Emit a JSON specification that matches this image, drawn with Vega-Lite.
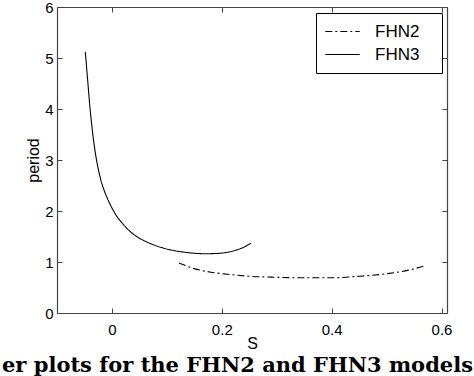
{
  "$schema": "https://vega.github.io/schema/vega-lite/v6.json",
  "autosize": {"type": "none"},
  "width": 390,
  "height": 306,
  "padding": {"left": 57, "top": 7, "right": 27, "bottom": 63},
  "background": "white",
  "title": {
    "text": "er plots for the FHN2 and FHN3 models",
    "orient": "bottom",
    "anchor": "start",
    "frame": "group",
    "dx": -55,
    "offset": 4,
    "font": "DejaVu Serif",
    "fontSize": 21,
    "fontWeight": "bold",
    "color": "black"
  },
  "data": {"values": [
    {"model": "FHN3", "s": -0.0485, "period": 5.12},
    {"model": "FHN3", "s": -0.046, "period": 4.80},
    {"model": "FHN3", "s": -0.044, "period": 4.54},
    {"model": "FHN3", "s": -0.042, "period": 4.28},
    {"model": "FHN3", "s": -0.040, "period": 4.03},
    {"model": "FHN3", "s": -0.0375, "period": 3.76},
    {"model": "FHN3", "s": -0.035, "period": 3.52},
    {"model": "FHN3", "s": -0.032, "period": 3.27},
    {"model": "FHN3", "s": -0.029, "period": 3.06},
    {"model": "FHN3", "s": -0.025, "period": 2.83},
    {"model": "FHN3", "s": -0.020, "period": 2.60},
    {"model": "FHN3", "s": -0.014, "period": 2.40},
    {"model": "FHN3", "s": -0.008, "period": 2.24},
    {"model": "FHN3", "s": 0.000, "period": 2.06},
    {"model": "FHN3", "s": 0.008, "period": 1.91},
    {"model": "FHN3", "s": 0.018, "period": 1.77},
    {"model": "FHN3", "s": 0.030, "period": 1.63},
    {"model": "FHN3", "s": 0.045, "period": 1.50},
    {"model": "FHN3", "s": 0.060, "period": 1.41},
    {"model": "FHN3", "s": 0.075, "period": 1.34},
    {"model": "FHN3", "s": 0.090, "period": 1.285},
    {"model": "FHN3", "s": 0.110, "period": 1.23},
    {"model": "FHN3", "s": 0.130, "period": 1.195},
    {"model": "FHN3", "s": 0.150, "period": 1.172},
    {"model": "FHN3", "s": 0.170, "period": 1.162},
    {"model": "FHN3", "s": 0.190, "period": 1.167},
    {"model": "FHN3", "s": 0.210, "period": 1.19},
    {"model": "FHN3", "s": 0.225, "period": 1.23},
    {"model": "FHN3", "s": 0.240, "period": 1.29},
    {"model": "FHN3", "s": 0.253, "period": 1.37},
    {"model": "FHN2", "s": 0.122, "period": 0.98},
    {"model": "FHN2", "s": 0.150, "period": 0.87},
    {"model": "FHN2", "s": 0.180, "period": 0.80},
    {"model": "FHN2", "s": 0.210, "period": 0.76},
    {"model": "FHN2", "s": 0.250, "period": 0.72},
    {"model": "FHN2", "s": 0.300, "period": 0.70},
    {"model": "FHN2", "s": 0.350, "period": 0.69},
    {"model": "FHN2", "s": 0.400, "period": 0.69},
    {"model": "FHN2", "s": 0.450, "period": 0.72},
    {"model": "FHN2", "s": 0.500, "period": 0.77},
    {"model": "FHN2", "s": 0.540, "period": 0.84},
    {"model": "FHN2", "s": 0.571, "period": 0.93}
  ]},
  "layer": [
    {
      "mark": {"type": "line", "color": "black", "strokeWidth": 1.1, "interpolate": "monotone"},
      "encoding": {
        "x": {"field": "s", "type": "quantitative",
              "scale": {"domain": [-0.1, 0.61], "nice": false, "zero": false},
              "axis": {"orient": "bottom", "title": "S", "values": [0, 0.2, 0.4, 0.6], "format": "~g",
                       "titleY": 22, "titleBaseline": "top"}},
        "y": {"field": "period", "type": "quantitative",
              "scale": {"domain": [0, 6], "nice": false},
              "axis": {"orient": "left", "title": "period", "values": [0, 1, 2, 3, 4, 5, 6]}},
        "strokeDash": {"field": "model", "type": "nominal",
              "scale": {"domain": ["FHN2", "FHN3"], "range": [[7, 3, 2, 3], [1, 0]]},
              "legend": {
                "orient": "none", "legendX": 259, "legendY": 6,
                "title": ".",
                "titleOrient": "right",
                "titleFontSize": 16,
                "titleOpacity": 0,
                "titlePadding": 8,
                "strokeColor": "black",
                "fillColor": "white",
                "padding": 10,
                "symbolType": "M-3,0H3",
                "symbolSize": 132,
                "symbolStrokeColor": "black",
                "symbolFillColor": "transparent",
                "symbolStrokeWidth": 1.1,
                "symbolOffset": 8,
                "labelFont": "Liberation Sans",
                "labelFontSize": 17,
                "labelColor": "black",
                "labelOffset": 24,
                "rowPadding": 5
              }}
      }
    },
    {
      "mark": {"type": "line", "opacity": 0},
      "encoding": {
        "x": {"field": "s", "type": "quantitative",
              "axis": {"orient": "top", "title": null, "labels": false, "values": [0, 0.2, 0.4, 0.6]}},
        "y": {"field": "period", "type": "quantitative",
              "axis": {"orient": "right", "title": null, "labels": false, "values": [0, 1, 2, 3, 4, 5, 6]}},
        "detail": {"field": "model", "type": "nominal"}
      }
    }
  ],
  "resolve": {"axis": {"x": "independent", "y": "independent"}},
  "config": {
    "view": {"stroke": null},
    "axis": {
      "grid": false,
      "domainColor": "#444",
      "domainWidth": 1.2,
      "tickColor": "#444",
      "tickSize": -5,
      "labelFont": "Liberation Sans",
      "labelFontSize": 15,
      "labelColor": "black",
      "titleFont": "Liberation Sans",
      "titleFontSize": 16,
      "titleFontWeight": "normal",
      "titleColor": "black"
    },
    "axisBottom": {"labelPadding": 14, "titlePadding": 0},
    "axisLeft": {"labelPadding": 9, "titlePadding": 3}
  }
}
